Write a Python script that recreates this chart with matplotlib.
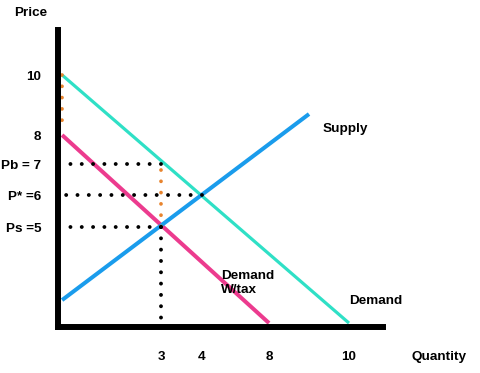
import numpy as np
import matplotlib.pyplot as plt

plt.rcParams['font.family'] = ['Liberation Sans', 'DejaVu Sans']
plt.rcParams['font.weight'] = 'bold'

# curves (quantity, price)
demand_q = [0, 10]
demand_p = [10, 0]
demand_tax_q = [0, 8]
demand_tax_p = [8, 0]
supply_q = [0, 9]
supply_p = [1.2, 8.7]

# equilibrium / tax points
q_tax = 3
q_star = 4
p_buyer = 7
p_star = 6
p_seller = 5

x_ticks = [3, 4, 8, 10]
x_labels = ['3', '4', '8', '10']
y_ticks = [10, 8, 7, 6, 5]
y_labels = ['10', '8', 'Pb = 7', 'P* =6', 'Ps =5']

# the sketch is not drawn to scale: piecewise scales so lines land where drawn
Q_KNOTS = [-1, 0, 3, 4, 8, 10, 12]
Q_POS = [28, 62, 161, 202, 269, 349, 429]
P_KNOTS = [-1, 0, 5, 6, 7, 8, 10, 12]
P_POS = [30, 50, 146, 178, 209, 238, 298, 358]

CYAN = '#2fe0c6'
PINK = '#ec3b8e'
BLUE = '#1a9cec'
ORANGE = '#e8842e'

fig = plt.figure(figsize=(4.8, 3.73), dpi=100)
ax = fig.add_axes([58 / 480, 46.5 / 373, 325 / 480, 296.5 / 373])

ax.set_xscale('function', functions=(lambda v: np.interp(v, Q_KNOTS, Q_POS),
                                     lambda v: np.interp(v, Q_POS, Q_KNOTS)))
ax.set_yscale('function', functions=(lambda v: np.interp(v, P_KNOTS, P_POS),
                                     lambda v: np.interp(v, P_POS, P_KNOTS)))

ax.plot(demand_q, demand_p, color=CYAN, lw=2.3, solid_capstyle='butt')
ax.plot(demand_tax_q, demand_tax_p, color=PINK, lw=2.9, solid_capstyle='butt')
ax.plot(supply_q, supply_p, color=BLUE, lw=2.9, solid_capstyle='butt')

dots = dict(color='black', lw=2.8, linestyle=(0, (0.01, 2.9)),
            dash_capstyle='round', zorder=2.2)
ax.plot([q_tax, 0], [p_buyer, p_buyer], **dots)
ax.plot([q_star, 0], [p_star, p_star], **dots)
ax.plot([q_tax, 0], [p_seller, p_seller], **dots)
ax.plot([q_tax, q_tax], [p_seller, 0], **dots)

odots = dict(color=ORANGE, lw=2.7, linestyle=(0, (0.01, 3.0)),
             dash_capstyle='round', zorder=2.1)
ax.plot([0, 0], [demand_p[0], demand_tax_p[0] + 0.4], **odots)
ax.plot([q_tax, q_tax], [p_buyer - 0.2, p_seller], **odots)

ax.set_xlim(-0.12, 10.85)
ax.set_ylim(-0.17, 11.5)

for s in ['top', 'right']:
    ax.spines[s].set_visible(False)
for s in ['left', 'bottom']:
    ax.spines[s].set_linewidth(4.3)
    ax.spines[s].set_color('black')

ax.set_xticks(x_ticks, x_labels)
ax.set_yticks(y_ticks, y_labels)
ax.tick_params(axis='x', length=0, pad=18, labelsize=9.7)
ax.tick_params(axis='y', length=0, pad=12, labelsize=9.7)
ax.minorticks_off()

ax.text(9.33, 8.2, 'Supply', fontsize=9.7, ha='left', va='center')
ax.text(10.0, 1.15, 'Demand', fontsize=9.7, ha='left', va='center')
ax.text(5.13, 2.08, 'Demand\nW/tax', fontsize=9.7, ha='left', va='center',
        linespacing=1.15)

fig.text(30.5 / 480, 1 - 13 / 373, 'Price', fontsize=9.7, ha='center', va='center')
fig.text(412 / 480, 1 - 357 / 373, 'Quantity', fontsize=9.7, ha='left', va='center')

fig.savefig('out.png', dpi=100)
